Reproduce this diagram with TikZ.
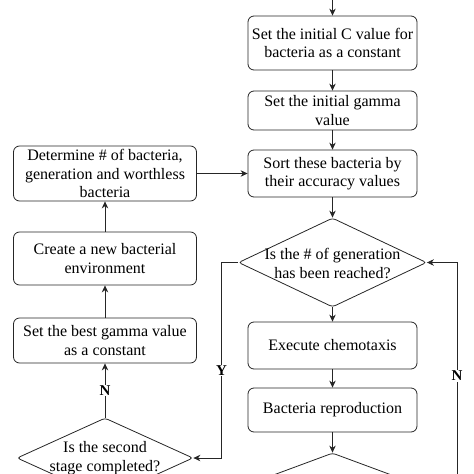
\documentclass[tikz,border=0pt]{standalone}
\usepackage{fontspec}
\setmainfont{Liberation Serif}
\usetikzlibrary{shapes.geometric,arrows.meta}
\tikzset{
  lc/.style={draw=black!85, line width=0.8pt},
  box/.style={lc, rounded corners=6pt, inner sep=0pt, align=center,
    font=\fontsize{16}{18.5}\selectfont},
  dia/.style={lc, shape=diamond, rounded corners=3pt, inner sep=0pt},
  dtext/.style={align=center, inner sep=0pt, font=\fontsize{16}{19}\selectfont},
  arr/.style={lc, -{Stealth[length=7pt,width=6.5pt]}},
  yn/.style={fill=white, inner sep=1pt, font=\fontsize{15}{16}\selectfont\bfseries}
}
\begin{document}
\begin{tikzpicture}[x=1pt,y=-1pt]
\useasboundingbox (0,0) rectangle (474,474);
\clip (0,0) rectangle (474,474);
% right column
\node[box, minimum width=169, minimum height=54] (c) at (332.5,43) {Set the initial C value for\\bacteria as a constant};
\node[box, minimum width=169, minimum height=39] (g) at (332.5,110.5) {Set the initial gamma\\value};
\node[box, minimum width=169, minimum height=47] (s) at (332.5,173.5) {Sort these bacteria by\\their accuracy values};
\node[dia, minimum width=188, minimum height=89] (d1) at (332.5,262.5) {};
\node[dtext] (d1t) at (332.5,263) {Is the \# of generation\\has been reached?};
\node[box, minimum width=169, minimum height=47] (e) at (332.5,345.5) {Execute chemotaxis};
\node[box, minimum width=169, minimum height=44] (r) at (332.5,410) {Bacteria reproduction};
\node[dia, minimum width=240, minimum height=89] (d3) at (332.5,497.5) {};
% left column
\node[box, minimum width=183, minimum height=55] (det) at (105,173.5) {Determine \# of bacteria,\\generation and worthless\\bacteria};
\node[box, minimum width=183, minimum height=53] (cr) at (105,258.5) {Create a new bacterial\\environment};
\node[box, minimum width=183, minimum height=45] (best) at (105,340.5) {Set the best gamma value\\as a constant};
\node[dia, minimum width=176, minimum height=80] (d2) at (105,458) {};
\node[dtext] (d2t) at (105,458) {Is the second\\stage completed?};
% entry and exit points
\coordinate (top) at (332.5,0);
\coordinate (bot) at (457,480);
% connectors
\draw[arr] (top) -- (c);
\draw[arr] (c) -- (g);
\draw[arr] (g) -- (s);
\draw[arr] (s) -- (d1);
\draw[arr] (d1) -- (e);
\draw[arr] (e) -- (r);
\draw[arr] (r) -- (d3);
\draw[arr] (det) -- (s);
\draw[arr] (cr) -- (det);
\draw[arr] (best) -- (cr);
\draw[arr] (d2) -- node[yn, pos=0.5] {N} (best);
\draw[arr] (d1.west) -- ++(-16.5,0) |- node[yn, pos=0.276] {Y} (d2.east);
\draw[arr] (bot) |- node[yn, pos=0.24] {N} (d1.east);
\end{tikzpicture}
\end{document}
